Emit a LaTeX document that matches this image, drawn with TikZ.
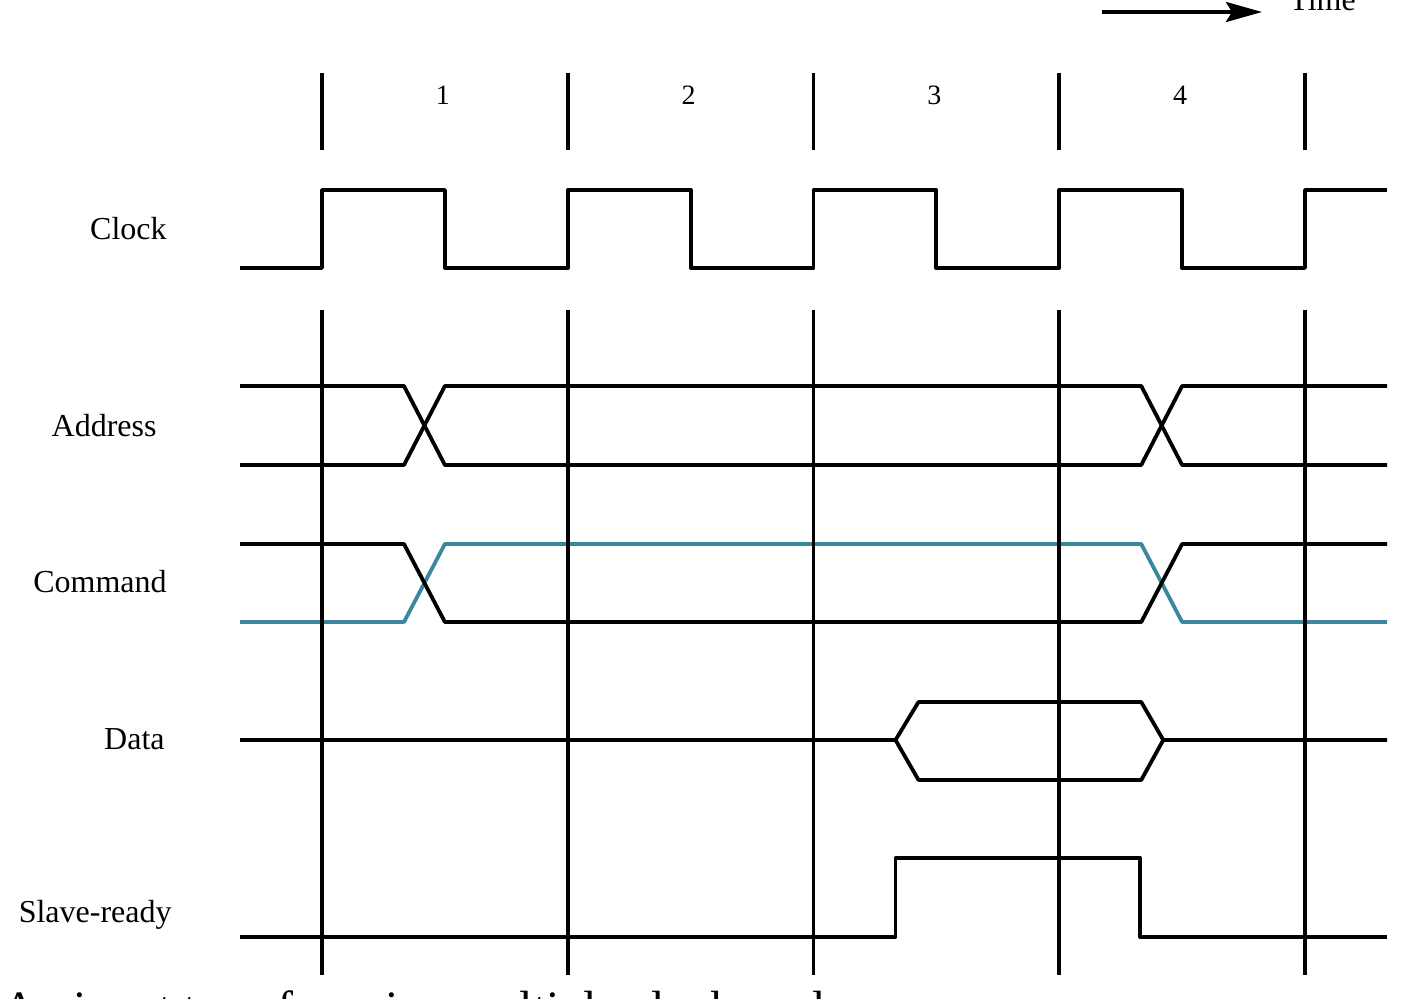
\documentclass[tikz,border=0pt]{standalone}
\usepackage{fontspec}
\setmainfont{Liberation Serif}
\usetikzlibrary{arrows.meta}
\definecolor{cmdblue}{RGB}{60,135,160}
\tikzset{
  sig/.style={line width=1.9pt,line join=round},
  grid/.style={line width=1.8pt},
  lbl/.style={anchor=base east,inner sep=0pt,font=\fontsize{16}{19}\selectfont},
  cyc/.style={anchor=base,inner sep=0pt,font=\fontsize{14}{17}\selectfont},
  timearrow/.style={line width=1.8pt,-{Stealth[length=18pt,width=10pt,inset=3pt]}}
}
\begin{document}
\begin{tikzpicture}[x=0.5pt,y=-0.5pt]
  \useasboundingbox (0,0) rectangle (1409,999);
  % parameters (all in pixels of the original)
  \def\xo{322}     % first rising edge
  \def\T{245.75}   % clock period
  \def\xl{240}     % left end of the traces
  \def\xr{1387}    % right end of the traces
  \def\d{82}       % a transition starts this far after an edge

  % time arrow
  \node[anchor=base west,inner sep=0pt,font=\fontsize{16}{19}\selectfont] (time) at (1289,11) {Time};
  \coordinate (tstart) at (1102,12);
  \draw[timearrow,shorten >=13.5pt] (tstart) -- (tstart -| time.west);

  % cycle ticks and numbers
  \foreach \i in {0,...,4} {
    \draw[grid] (\xo+\i*\T,73) -- (\xo+\i*\T,150);
  }
  \foreach \i in {1,...,4} {
    \node[cyc] (n\i) at (\xo+\i*\T-\T/2-2,105) {\i};
  }

  % signal names
  \foreach \x/\y/\name/\txt in {167/240/clk/Clock, 157/437/addr/Address,
      167/593/cmd/Command, 165/750/data/Data, 172/922/ready/Slave-ready} {
    \node[lbl] (\name) at (\x,\y) {\txt};
  }

  % clock
  \draw[sig] (\xl,268) \foreach \i in {0,...,3} {
      -- (\xo+\i*\T,268) -- (\xo+\i*\T,190)
      -- (\xo+\i*\T+\T/2,190) -- (\xo+\i*\T+\T/2,268) }
    -- (\xo+4*\T,268) -- (\xo+4*\T,190) -- (\xr,190);

  % address
  \draw[sig] (\xl,386) -- (\xo+\d,386) -- (\xo+\T/2,465)
    -- (\xo+3*\T+\d,465) -- (\xo+3.5*\T,386) -- (\xr,386);
  \draw[sig] (\xl,465) -- (\xo+\d,465) -- (\xo+\T/2,386)
    -- (\xo+3*\T+\d,386) -- (\xo+3.5*\T,465) -- (\xr,465);

  % command
  \draw[sig,cmdblue] (\xl,622) -- (\xo+\d,622) -- (\xo+\T/2,544)
    -- (\xo+3*\T+\d,544) -- (\xo+3.5*\T,622) -- (\xr,622);
  \draw[sig] (\xl,544) -- (\xo+\d,544) -- (\xo+\T/2,622)
    -- (\xo+3*\T+\d,622) -- (\xo+3.5*\T,544) -- (\xr,544);

  % data
  \draw[sig] (\xl,740) -- (\xo+2*\T+\d,740) -- (\xo+2*\T+\d+23,702)
    -- (\xo+3*\T+\d,702) -- (\xo+3*\T+\d+22,740) -- (\xr,740);
  \draw[sig] (\xo+2*\T+\d,740) -- (\xo+2*\T+\d+23,780)
    -- (\xo+3*\T+\d,780) -- (\xo+3*\T+\d+22,740);

  % slave-ready
  \draw[sig] (\xl,937) -- (\xo+2*\T+\d,937) -- (\xo+2*\T+\d,858)
    -- (\xo+3*\T+\d-1,858) -- (\xo+3*\T+\d-1,937) -- (\xr,937);

  % cycle boundaries
  \foreach \i in {0,...,4} {
    \draw[grid] (\xo+\i*\T,310) -- (\xo+\i*\T,975);
  }

  % caption (cut by the page edge)
  \node[anchor=base west,inner sep=0pt,font=\fontsize{24}{28}\selectfont] (caption)
    at (2,1024) {An input transfer using multiple clock cycles.};
\end{tikzpicture}
\end{document}
